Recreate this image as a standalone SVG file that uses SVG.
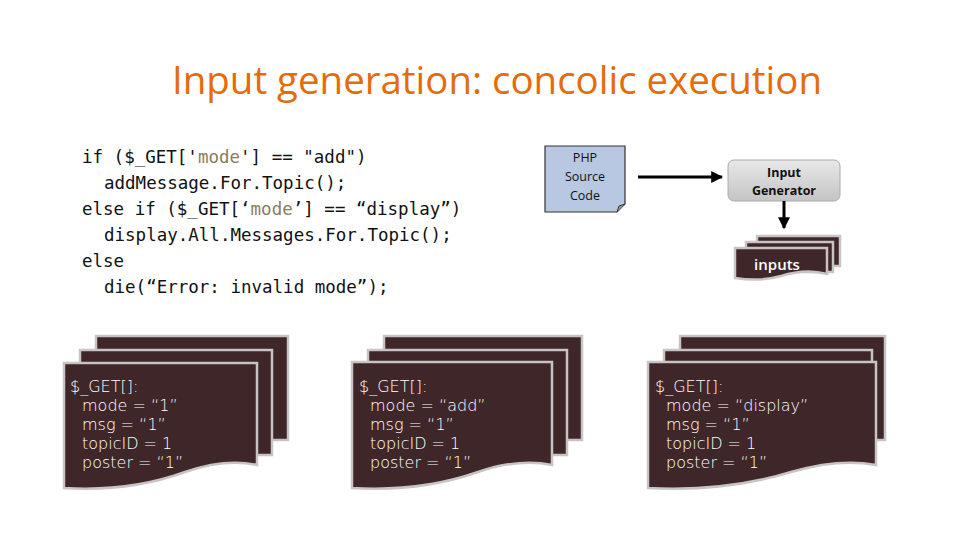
<svg xmlns="http://www.w3.org/2000/svg" width="960" height="540" viewBox="0 0 960 540">
<defs>
<style>
.code{font-family:"DejaVu Sans Mono","Liberation Mono",monospace;font-size:17.5px;fill:#111}
.kw{fill:#8c7b5e}
.sheet{fill:#3f2629;stroke:#c8c4c4;stroke-width:2.5}
.st{font-family:"DejaVu Sans","Liberation Sans",sans-serif;font-size:16px;fill:#fff;font-weight:300}
.sm{font-family:"Open Sans","DejaVu Sans",sans-serif;font-size:12.5px;fill:#111}
.conn{stroke:#000;stroke-width:3;fill:none}
</style>
<linearGradient id="g" x1="0" y1="0" x2="0" y2="1"><stop offset="0" stop-color="#e8e8e8"/><stop offset="1" stop-color="#c4c4c4"/></linearGradient>
<marker id="ah" viewBox="0 0 10 10" refX="9" refY="5" markerWidth="4" markerHeight="4" orient="auto"><path d="M0,0L10,5L0,10z" fill="#000"/></marker>
</defs>
<rect width="960" height="540" fill="#fff"/>
<text x="497" y="94" text-anchor="middle" font-family="Open Sans,Liberation Sans,sans-serif" font-size="38" fill="#e46c0a" textLength="650" lengthAdjust="spacingAndGlyphs">Input generation: concolic execution</text>
<g id="code" class="code">
<text x="82" y="163">if ($_GET['<tspan class="kw">mode</tspan>'] == "add")</text>
<text x="104" y="189">addMessage.For.Topic();</text>
<text x="82" y="215">else if ($_GET[‘<tspan class="kw">mode</tspan>’] == “display”)</text>
<text x="104" y="241">display.All.Messages.For.Topic();</text>
<text x="82" y="267">else</text>
<text x="104" y="293">die(“Error: invalid mode”);</text>
</g>
<g id="php">
<path d="M545,146H625V204L617,212H545Z" fill="#b8c8e2" stroke="#333" stroke-width="1.2"/>
<path d="M617,212L619,206L625,204" fill="#999" stroke="#333" stroke-width="1"/>
<text class="sm" x="585" y="162" text-anchor="middle">PHP</text>
<text class="sm" x="585" y="181" text-anchor="middle">Source</text>
<text class="sm" x="585" y="200" text-anchor="middle">Code</text>
</g>
<g id="gen">
<rect x="728" y="160" width="112" height="41" rx="6" fill="url(#g)" stroke="#aaa"/>
<text class="sm" x="784" y="177" text-anchor="middle" font-weight="bold">Input</text>
<text class="sm" x="784" y="195" text-anchor="middle" font-weight="bold">Generator</text>
</g>
<g id="inputs">
<path class="sheet" d="M757,236H840V266H757Z"/>
<path class="sheet" d="M746,242H833V272H746Z"/>
<path class="sheet" d="M735,248H827V274Q806,268 781,276Q760,282 735,278Z"/>
<text x="777" y="270" text-anchor="middle" font-family="Open Sans,DejaVu Sans,sans-serif" font-size="15" fill="#fff" font-weight="600">inputs</text>
</g>
<g id="connectors">
<line class="conn" x1="638" y1="177" x2="722" y2="177" marker-end="url(#ah)"/>
<line class="conn" x1="784" y1="201" x2="784" y2="228" marker-end="url(#ah)"/>
</g>
<g id="s1">
<path class="sheet" d="M96,336H288V440H96Z"/>
<path class="sheet" d="M80,350H272V455H80Z"/>
<path class="sheet" d="M64,363H257V465Q225,458 185,472Q130,492 64,488Z"/>
<text class="st" x="70" y="392">$_GET[]:</text>
<text class="st" x="82" y="411">mode = “1”</text>
<text class="st" x="82" y="430">msg = “1”</text>
<text class="st" x="82" y="449">topicID = 1</text>
<text class="st" x="82" y="468">poster = “1”</text>
</g>
<g id="s2">
<path class="sheet" d="M384,336H582V440H384Z"/>
<path class="sheet" d="M368,350H567V455H368Z"/>
<path class="sheet" d="M352,362H552V465Q519,458 478,472Q421,492 352,488Z"/>
<text class="st" x="359" y="392">$_GET[]:</text>
<text class="st" x="370" y="411">mode = “add”</text>
<text class="st" x="370" y="430">msg = “1”</text>
<text class="st" x="370" y="449">topicID = 1</text>
<text class="st" x="370" y="468">poster = “1”</text>
</g>
<g id="s3">
<path class="sheet" d="M680,336H885V440H680Z"/>
<path class="sheet" d="M664,350H872V455H664Z"/>
<path class="sheet" d="M648,362H876V465Q839,458 791,472Q726,492 648,488Z"/>
<text class="st" x="655" y="392">$_GET[]:</text>
<text class="st" x="666" y="411">mode = “display”</text>
<text class="st" x="666" y="430">msg = “1”</text>
<text class="st" x="666" y="449">topicID = 1</text>
<text class="st" x="666" y="468">poster = “1”</text>
</g>
</svg>
